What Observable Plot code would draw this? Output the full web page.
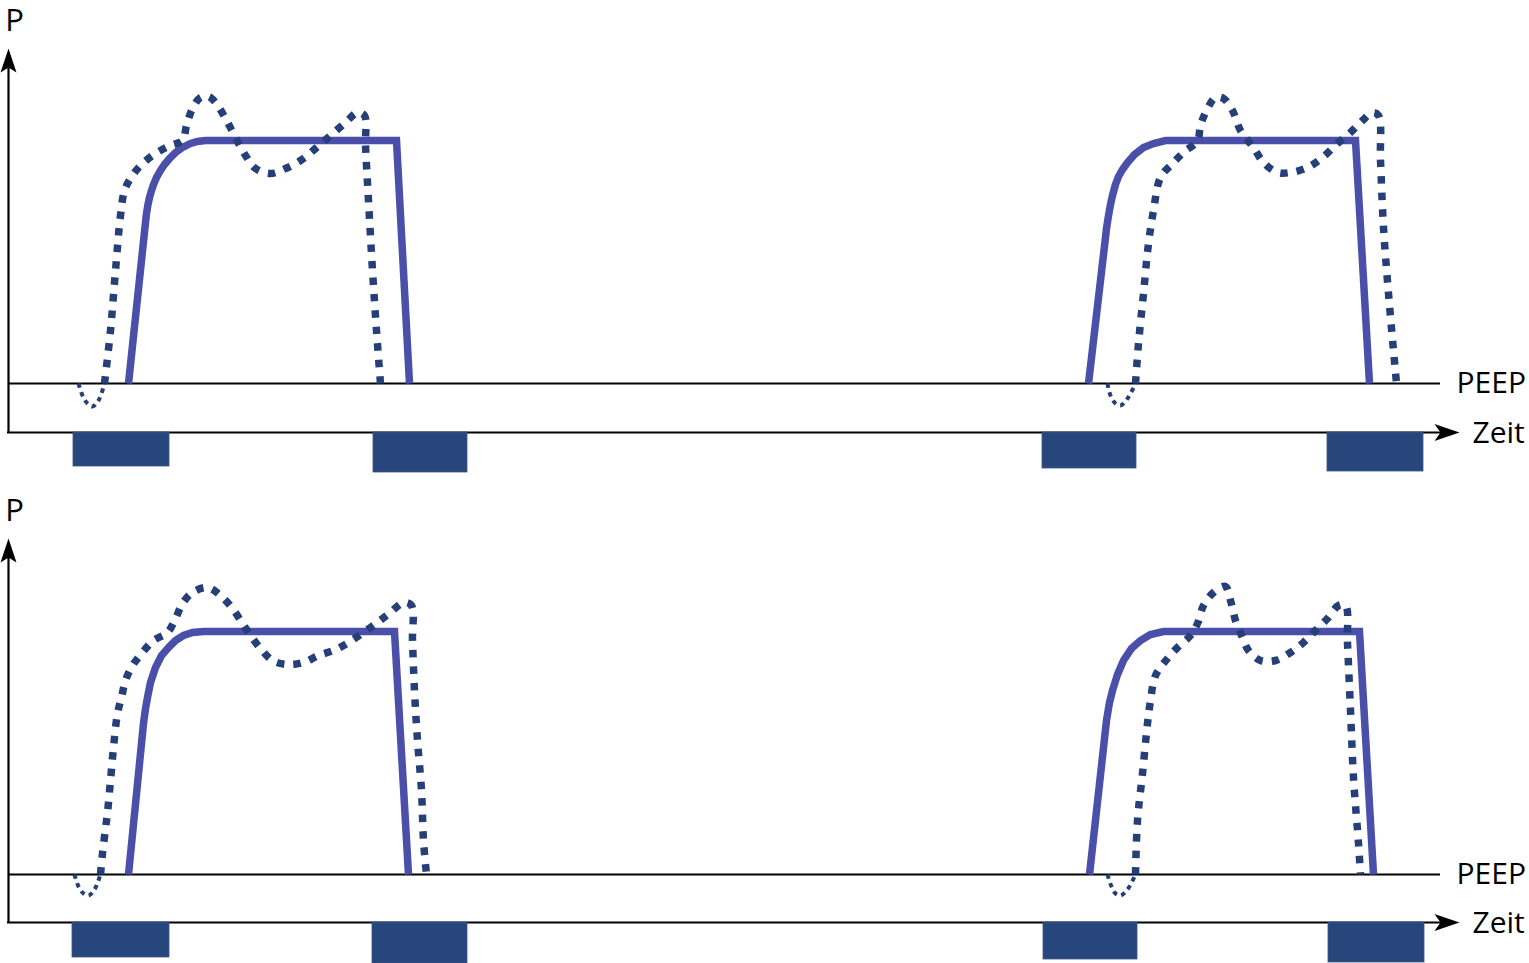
<!DOCTYPE html>
<html>
<head>
<meta charset="utf-8">
<script src="https://cdn.jsdelivr.net/npm/d3@7"></script>
<script src="https://cdn.jsdelivr.net/npm/@observablehq/plot@0.6"></script>
<style>
  html, body { margin: 0; padding: 0; background: #fff; }
  svg { display: block; }
</style>
</head>
<body>
<div id="chart"></div>
<script>
// ---- Data: time (t) and pressure above PEEP (p) ----
// Top panel
const topSolid1 = [[128,0],[145,161],[146,170],[147.5,179],[149,186],[151,193],[153,199],[156,206],[160,213],[164,219],[169,225],[175,231],[182,236],[190,240],[197,242],[205,243],[396,243],[409,0]];
const topSolid2 = [[1088,0],[1105,146],[1106,155],[1108,168],[1110,179],[1112,188],[1115,199],[1118,207],[1122,214],[1127,221],[1134,229],[1143,236],[1153,240],[1165,243],[1355,243],[1369,0]];
const topDipped1 = [[78,0],[82,-12],[87,-20],[92,-23],[98,-17],[104,0]];
const topDotted1 = [[104,0],[110,53],[115,113],[120,168],[124,193],[130,205],[140,218],[155,230],[170,238],[182,243],[186,258],[192,275],[200,286],[208,287],[215,281],[225,265],[235,246],[245,228],[255,215],[270,210],[285,215],[300,223],[315,235],[330,248],[345,261],[357,271],[364,268],[365,238],[368,183],[372,113],[376,53],[380,0]];
const topDipped2 = [[1107,0],[1110,-12],[1115,-20],[1120,-22],[1127,-15],[1135,0]];
const topDotted2 = [[1135,0],[1138,40],[1143,90],[1148,140],[1153,173],[1160,206],[1172,220],[1183,231],[1197,243],[1200,258],[1207,275],[1215,286],[1223,285],[1232,273],[1240,253],[1253,236],[1263,221],[1277,211],[1290,211],[1307,216],[1322,226],[1337,240],[1350,251],[1362,263],[1372,271],[1378,268],[1380,223],[1383,156],[1388,90],[1393,33],[1396,0]];
const topBars = [[73,169,-83],[373,467,-89],[1042,1136,-85],[1327,1423,-88]];

// Bottom panel
const botSolid1 = [[128,0],[143,151],[145,166],[147,177],[150,192],[155,207],[161,219],[168,227],[175,234],[183,239],[192,242],[203,243],[394,243],[408,0]];
const botSolid2 = [[1089,0],[1106,154],[1109,172],[1112,184],[1117,200],[1123,214],[1131,226],[1140,234],[1150,240],[1163,243],[1359,243],[1373,0]];
const botDipped1 = [[74,0],[78,-12],[83,-19],[88,-21],[94,-15],[100,0]];
const botDotted1 = [[100,0],[102,21],[105,46],[107,62],[110,94],[113,127],[117,161],[121,177],[125,194],[132,209],[142,222],[153,234],[167,242],[175,256],[182,271],[192,282],[207,287],[220,279],[232,266],[242,251],[250,239],[260,226],[272,214],[287,210],[303,212],[318,219],[333,224],[348,232],[363,242],[377,252],[390,262],[403,272],[411,269],[412,234],[414,184],[417,134],[421,84],[423,34],[426,0]];
const botDipped2 = [[1107,0],[1111,-12],[1115,-19],[1120,-21],[1127,-15],[1135,0]];
const botDotted2 = [[1135,0],[1137,54],[1142,101],[1147,151],[1150,174],[1155,199],[1167,216],[1177,227],[1190,239],[1197,251],[1203,269],[1213,282],[1225,288],[1230,274],[1235,254],[1242,237],[1248,224],[1260,214],[1275,214],[1290,222],[1303,232],[1315,244],[1327,256],[1338,269],[1345,269],[1347,231],[1350,164],[1353,97],[1358,31],[1360,0]];
const botBars = [[72,169,-83],[372,467,-89],[1043,1137,-85],[1328,1424,-88]];

// Axis layout values (time / pressure units)
const timeAxisP = [-49, -48];      // pressure level of the time axis (top, bottom)
const pAxisTipP = [335, 336];      // tip of the P-axis arrow
const pLabelP = [362, 363];        // "P" label level
const panelDomains = [[-107, 383], [-89, 384]];
const panelHeights = [490, 473];
const axisT = 8, peepEndT = 1440, timeTipT = 1459, peepLabelT = 1456, zeitLabelT = 1472, pLabelT = 14;
const labels = { p: "P", peep: "PEEP", zeit: "Zeit" };

// ---- Styles ----
const solidColor = "#4a4faa";
const dotColor = "#253f79";
const barColor = "#27467b";
const font = "'Open Sans', 'Noto Sans', sans-serif";

const arrowUp = { draw(ctx) { ctx.moveTo(0, 0); ctx.lineTo(8, 24); ctx.lineTo(0, 19); ctx.lineTo(-8, 24); ctx.closePath(); } };
const arrowRight = { draw(ctx) { ctx.moveTo(0, 0); ctx.lineTo(-25, -8.5); ctx.lineTo(-19, 0); ctx.lineTo(-25, 8.5); ctx.closePath(); } };

const X = d => d[0], Y = d => d[1];

function panel(i, solids, dips, dots, bars) {
  const ta = timeAxisP[i];
  return Plot.plot({
    width: 1529,
    height: panelHeights[i],
    margin: 0,
    x: { domain: [0, 1529], axis: null },
    y: { domain: panelDomains[i], axis: null },
    style: { background: "white", fontFamily: font, overflow: "visible", maxWidth: "none" },
    marks: [
      // PEEP line
      Plot.ruleY([0], { x1: axisT, x2: peepEndT, stroke: "black", strokeWidth: 2 }),
      // time axis
      Plot.ruleY([ta], { x1: axisT - 1, x2: timeTipT - 10, stroke: "black", strokeWidth: 2.2 }),
      // P axis
      Plot.ruleX([axisT], { y1: ta - 1, y2: pAxisTipP[i] - 10, stroke: "black", strokeWidth: 2.2 }),
      // trigger bars
      Plot.rect(bars, { x1: d => d[0], x2: d => d[1], y1: ta, y2: d => d[2], fill: barColor, stroke: "#3b5688", strokeWidth: 0.8 }),
      // solid curves
      ...solids.map(s => Plot.line(s, { x: X, y: Y, stroke: solidColor, strokeWidth: 7.5, strokeLinejoin: "miter", strokeMiterlimit: 10, strokeLinecap: "butt" })),
      // dotted curves (square dots)
      ...dips.map(s => Plot.line(s, { x: X, y: Y, stroke: dotColor, strokeWidth: 4, strokeDasharray: "4.5,4.5", strokeLinecap: "butt", curve: "catmull-rom" })),
      ...dots.map(s => Plot.line(s, { x: X, y: Y, stroke: dotColor, strokeWidth: 7.5, strokeDasharray: "7.5,9", strokeLinecap: "butt", curve: "catmull-rom" })),
      // arrowheads
      Plot.dot([[axisT, pAxisTipP[i]]], { x: X, y: Y, symbol: arrowUp, fill: "black", stroke: "none", r: 5 }),
      Plot.dot([[timeTipT, ta]], { x: X, y: Y, symbol: arrowRight, fill: "black", stroke: "none", r: 5 }),
      // labels
      Plot.text([labels.p], { x: pLabelT, y: pLabelP[i], text: d => d, fontSize: 31, fill: "black", textAnchor: "middle" }),
      Plot.text([labels.peep], { x: peepLabelT, y: 0, text: d => d, fontSize: 30, fill: "black", textAnchor: "start" }),
      Plot.text([labels.zeit], { x: zeitLabelT, y: ta - 1, text: d => d, fontSize: 30, fill: "black", textAnchor: "start" })
    ]
  });
}

const root = document.getElementById("chart");
root.append(panel(0, [topSolid1, topSolid2], [topDipped1, topDipped2], [topDotted1, topDotted2], topBars));
root.append(panel(1, [botSolid1, botSolid2], [botDipped1, botDipped2], [botDotted1, botDotted2], botBars));
</script>
</body>
</html>
